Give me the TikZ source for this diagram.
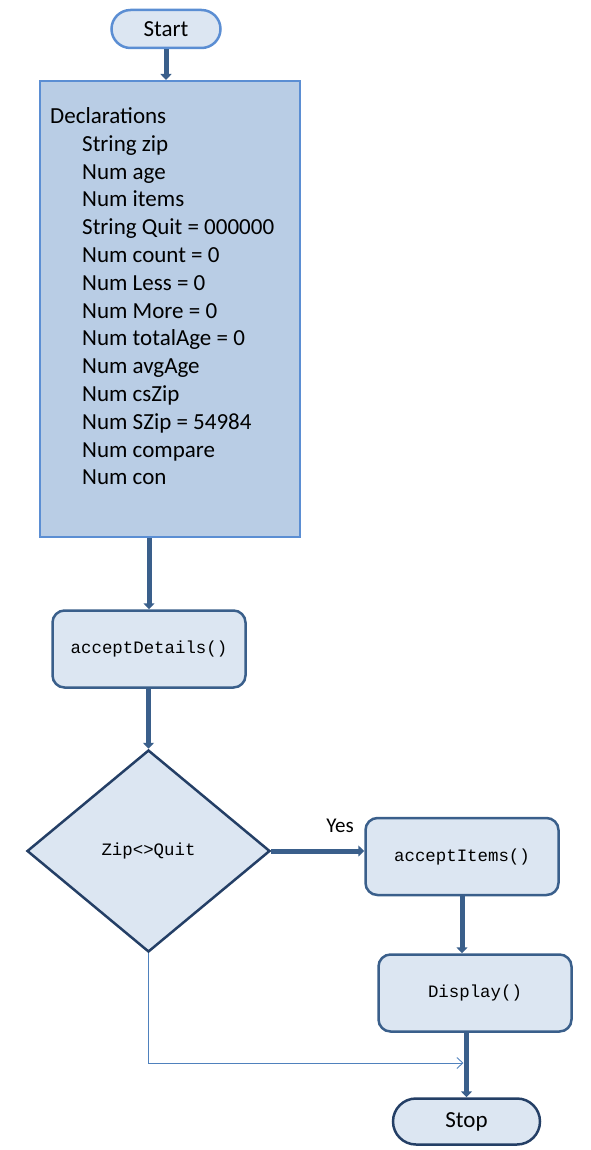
\documentclass[tikz,border=0pt]{standalone}
\usepackage{fontspec}
\setmainfont{Carlito}
\setmonofont{Liberation Mono}
\usetikzlibrary{shapes.geometric,arrows.meta}
\definecolor{lightfill}{HTML}{DCE6F2}
\definecolor{declfill}{HTML}{B9CDE5}
\definecolor{lightedge}{HTML}{5B8ED3}
\definecolor{midedge}{HTML}{3A5F8B}
\definecolor{darkedge}{HTML}{243F66}
\definecolor{arrowblue}{HTML}{3A5F8B}
\definecolor{thinblue}{HTML}{4F81BD}
\tikzset{
  body/.style={font=\fontsize{23}{27.8}\selectfont},
  mono/.style={font=\fontsize{17.4}{20}\ttfamily},
  proc/.style={draw=midedge, line width=2.5pt, fill=lightfill, rounded corners=12pt, minimum width=193pt, minimum height=77pt, inner sep=0pt, mono},
  term/.style={fill=lightfill, line width=2.5pt, inner sep=0pt, body},
  thick arrow/.style={draw=arrowblue, line width=5pt, -{Triangle[width=11pt,length=6pt]}},
  thin arrow/.style={draw=thinblue, line width=0.9pt, -{Straight Barb[length=6pt,width=11pt]}},
  declline/.style={anchor=base west, inner sep=0pt, body},
}
\begin{document}
\begin{tikzpicture}[x=1pt,y=-1pt]
\useasboundingbox (0,0) rectangle (590,1150);
% Start
\node[term, draw=lightedge, rounded corners=19pt, minimum width=109pt, minimum height=38pt] (start) at (166,29) {Start};
% Declarations box
\node[draw=lightedge, line width=2pt, fill=declfill, minimum width=260pt, minimum height=456pt, inner sep=0pt] (decl) at (170,309) {};
\node[declline] (l1) at (50,123.5) {Declarations};
\foreach \t [count=\i] in {String zip, Num age, Num items, String Quit = 000000, Num count = 0, Num Less = 0, Num More = 0, Num totalAge = 0, Num avgAge, Num csZip, Num SZip = 54984, Num compare, Num con}
  \node[declline] (d\i) at (82,{123.5+27.8*\i}) {\t};
% acceptDetails
\node[proc] (adet) at (149,649) {acceptDetails()};
% Decision
\node[diamond, draw=darkedge, line width=2.5pt, fill=lightfill, minimum width=243pt, minimum height=202pt, inner sep=0pt, mono] (dia) at (148.5,851) {Zip<>Quit};
% acceptItems
\node[proc] (items) at (462,856.5) {acceptItems()};
% Display
\node[proc] (disp) at (475,993) {Display()};
% Stop
\node[term, draw=darkedge, rounded corners=23pt, minimum width=147pt, minimum height=46pt] (stop) at (466.5,1121.5) {Stop};
% Yes label
\node[inner sep=0pt, font=\fontsize{21}{24}\selectfont] (yes) at (340,826) {Yes};
% Connectors
\draw[thick arrow] (start.south) -- (start.south |- decl.north);
\draw[thick arrow] (adet.north |- decl.south) -- (adet.north);
\draw[thick arrow] (adet.south -| dia.north) -- (dia.north);
\draw[thick arrow] (dia.east) -- (dia.east -| items.west);
\draw[thick arrow] (items.south) -- (items.south |- disp.north);
\draw[thick arrow] (stop.north |- disp.south) -- (stop.north);
\coordinate (bend) at (148.5,1063);
\coordinate (noend) at (463.5,1063);
\draw[thin arrow] (dia.south) -- (bend) -- (noend);
\end{tikzpicture}
\end{document}
